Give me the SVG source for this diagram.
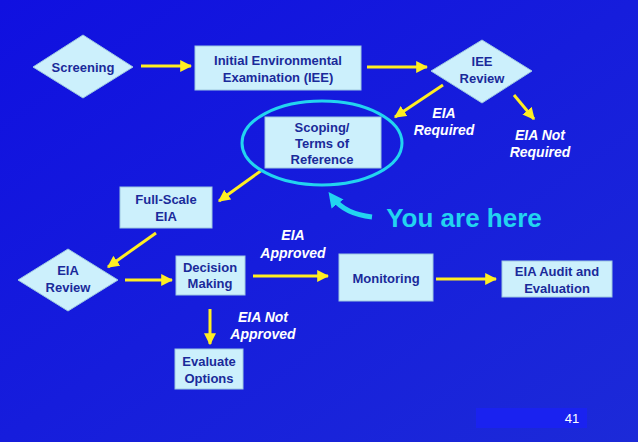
<svg xmlns="http://www.w3.org/2000/svg" width="638" height="442" viewBox="0 0 638 442">
<defs>
<linearGradient id="bg" x1="0" y1="0" x2="1" y2="1"><stop offset="0" stop-color="#1010e0"/><stop offset="1" stop-color="#1c2ad8"/></linearGradient>
<marker id="ah" viewBox="0 0 10 10" refX="9" refY="5" markerWidth="4" markerHeight="4" orient="auto"><path d="M0,0L10,5L0,10z" fill="#ffee22"/></marker>
<marker id="ch" viewBox="0 0 10 10" refX="5" refY="5" markerWidth="3" markerHeight="3" orient="auto"><path d="M0,0L10,5L0,10z" fill="#22d4f0"/></marker>
<style>
.n{fill:#ccf0fc;stroke:#9ec8e0;stroke-width:1}
.t{font-family:"Liberation Sans",Arial,sans-serif;font-weight:bold;font-size:13px;fill:#1a2a9a;text-anchor:middle}
.l{font-family:"Liberation Sans",Arial,sans-serif;font-weight:bold;font-style:italic;font-size:14px;fill:#ffffff;text-anchor:middle}
.c{stroke:#ffee22;stroke-width:3;fill:none;marker-end:url(#ah)}
</style>
</defs>
<rect width="638" height="442" fill="url(#bg)"/>
<rect x="476" y="408" width="111" height="20" fill="#1a22f0"/>
<text x="572" y="423" font-family="Liberation Sans,Arial,sans-serif" font-size="13" fill="#ffffff" text-anchor="middle">41</text>
<g id="connectors">
<line class="c" x1="141" y1="66" x2="191" y2="66"/>
<line class="c" x1="367" y1="67" x2="427" y2="67"/>
<line class="c" x1="443" y1="85" x2="395" y2="117"/>
<line class="c" x1="514" y1="95" x2="534" y2="119"/>
<line class="c" x1="262" y1="170" x2="219" y2="201"/>
<line class="c" x1="156" y1="233" x2="108" y2="267"/>
<line class="c" x1="125" y1="280" x2="172" y2="280"/>
<line class="c" x1="253" y1="276" x2="328" y2="276"/>
<line class="c" x1="436" y1="279" x2="496" y2="279"/>
<line class="c" x1="210" y1="309" x2="210" y2="344"/>
</g>
<g id="screening"><polygon class="n" points="33,67 83,35 133,67 83,98"/><text class="t" x="83" y="72">Screening</text></g>
<g id="iee"><rect class="n" x="195" y="46" width="166" height="44"/><text class="t" x="278" y="65">Initial Environmental</text><text class="t" x="278" y="82">Examination (IEE)</text></g>
<g id="iee-review"><polygon class="n" points="431,71 482,40 532,71 482,103"/><text class="t" x="482" y="66">IEE</text><text class="t" x="482" y="83">Review</text></g>
<text class="l" x="444" y="118">EIA</text><text class="l" x="444" y="135">Required</text>
<text class="l" x="540" y="140">EIA Not</text><text class="l" x="540" y="157">Required</text>
<g id="scoping"><rect class="n" x="265" y="117" width="116" height="51"/><text class="t" x="322" y="132">Scoping/</text><text class="t" x="322" y="148">Terms of</text><text class="t" x="322" y="164">Reference</text></g>
<ellipse cx="322" cy="143" rx="80" ry="42" fill="none" stroke="#22d4f0" stroke-width="3"/>
<path d="M372,217 Q345,214 333,198" fill="none" stroke="#22d4f0" stroke-width="5" marker-end="url(#ch)"/>
<text x="464" y="227" font-family="Liberation Sans,Arial,sans-serif" font-weight="bold" font-size="26" fill="#22d4f0" text-anchor="middle">You are here</text>
<g id="fullscale"><rect class="n" x="120" y="187" width="92" height="41"/><text class="t" x="166" y="204">Full-Scale</text><text class="t" x="166" y="221">EIA</text></g>
<g id="eia-review"><polygon class="n" points="18,280 68,249 118,280 68,311"/><text class="t" x="68" y="275">EIA</text><text class="t" x="68" y="292">Review</text></g>
<g id="decision"><rect class="n" x="176" y="256" width="69" height="39"/><text class="t" x="210" y="272">Decision</text><text class="t" x="210" y="288">Making</text></g>
<text class="l" x="293" y="240">EIA</text><text class="l" x="293" y="258">Approved</text>
<g id="monitoring"><rect class="n" x="339" y="254" width="94" height="47"/><text class="t" x="386" y="283">Monitoring</text></g>
<g id="audit"><rect class="n" x="502" y="261" width="110" height="36"/><text class="t" x="557" y="276">EIA Audit and</text><text class="t" x="557" y="293">Evaluation</text></g>
<text class="l" x="263" y="322">EIA Not</text><text class="l" x="263" y="339">Approved</text>
<g id="evaluate"><rect class="n" x="175" y="349" width="68" height="40"/><text class="t" x="209" y="366">Evaluate</text><text class="t" x="209" y="383">Options</text></g>
</svg>
